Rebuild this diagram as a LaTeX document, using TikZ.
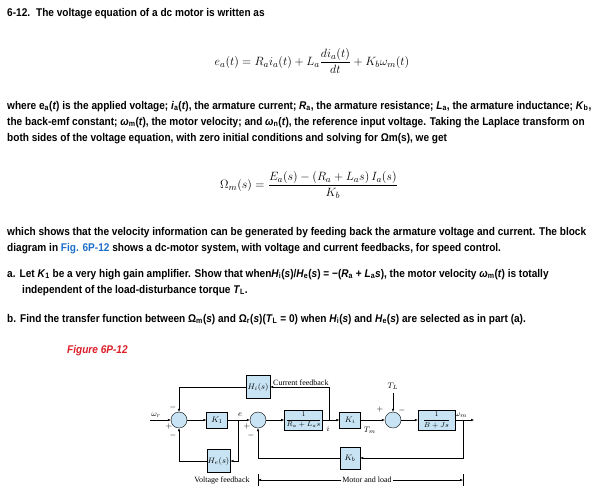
\documentclass[tikz,border=0pt]{standalone}
\usepackage{fontspec}
\usepackage{amsmath}
\setmainfont[FakeStretch=0.9]{Liberation Sans}
\newfontfamily\dgfont{Liberation Serif}
\usetikzlibrary{arrows.meta}
\definecolor{bfill}{RGB}{200,228,244}
\definecolor{figred}{RGB}{220,30,40}
\definecolor{linkblue}{RGB}{30,110,200}
\begin{document}
\begin{tikzpicture}[x=1pt,y=-1pt,
  txt/.style={anchor=base west,inner sep=0,font=\fontsize{11.2}{13}\selectfont},
  blk/.style={draw,fill=bfill,minimum width=21pt,minimum height=16pt,inner sep=1pt,font=\dgfont\fontsize{8.5}{9}\selectfont},
  sumj/.style={draw,circle,fill=bfill,minimum size=16pt,inner sep=0},
  sig/.style={inner sep=0,font=\dgfont\fontsize{8}{9}\selectfont},
  sg/.style={inner sep=0,font=\fontsize{8}{9}\selectfont},
  ar/.style={-{Latex[length=3pt,width=2.5pt]}}]
\useasboundingbox (0,0) rectangle (613,491);
\node[txt] (t0) at (7,16) {\textbf{6-12.}\hspace{6pt}\textbf{The voltage equation of a dc motor is written as}};
\node[inner sep=0,font=\fontsize{12.5}{14}\selectfont] (e1) at (312,61) {$e_a(t)=R_ai_a(t)+L_a\dfrac{di_a(t)}{dt}+K_b\omega_m(t)$};
\node[txt] (l1) at (7,109) {\textbf{where e\textsubscript{a}(\textit{t}) is the applied voltage; \textit{i}\textsubscript{a}(\textit{t}), the armature current; \textit{R}\textsubscript{a}, the armature resistance; \textit{L}\textsubscript{a}, the armature inductance; \textit{K}\textsubscript{b},}};
\node[txt] (l2) at (7,125) {\textbf{the back-emf constant; \textit{ω}\textsubscript{m}(\textit{t}), the motor velocity; and \textit{ω}\textsubscript{n}(\textit{t}), the reference input voltage. Taking the Laplace transform on}};
\node[txt] (l3) at (7,141) {\textbf{both sides of the voltage equation, with zero initial conditions and solving for Ωm(s), we get}};
\node[inner sep=0,font=\fontsize{12.5}{14}\selectfont] (e2) at (309,185) {$\Omega_m(s)=\dfrac{E_a(s)-(R_a+L_as)\,I_a(s)}{K_b}$};
\node[txt] (l4) at (7,235) {\textbf{which shows that the velocity information can be generated by feeding back the armature voltage and current. The block}};
\node[txt] (l5) at (7,251) {\textbf{diagram in \textcolor{linkblue}{Fig. 6P-12} shows a dc-motor system, with voltage and current feedbacks, for speed control.}};
\node[txt] (l6) at (7,277) {\textbf{a.\hspace{4pt}Let \textit{K}\textsubscript{1} be a very high gain amplifier. Show that when\textit{H}\textsubscript{i}(\textit{s})/\textit{H}\textsubscript{e}(\textit{s}) = −(\textit{R}\textsubscript{a} + \textit{L}\textsubscript{a}\textit{s}), the motor velocity \textit{ω}\textsubscript{m}(\textit{t}) is totally}};
\node[txt] (l7) at (22,293) {\textbf{independent of the load-disturbance torque \textit{T}\textsubscript{L}.}};
\node[txt] (l8) at (7,322) {\textbf{b.\hspace{4pt}Find the transfer function between Ω\textsubscript{m}(\textit{s}) and Ω\textsubscript{r}(\textit{s})(\textit{T}\textsubscript{L} = 0) when \textit{H}\textsubscript{i}(\textit{s}) and \textit{H}\textsubscript{e}(\textit{s}) are selected as in part (a).}};
\node[txt,text=figred] (fig) at (67,353) {\textbf{\textit{Figure 6P-12}}};
% diagram
\coordinate (in) at (150,420);
\node[sumj] (s1) at (179,420) {};
\node[blk] (k1) at (217,420) {$K_1$};
\coordinate (eb) at (238,420);
\node[sumj] (s2) at (258,420) {};
\node[blk,minimum width=33pt,minimum height=20pt,font=\dgfont\fontsize{7.5}{8}\selectfont] (ra) at (303.5,420) {$\dfrac{1}{R_a+L_as}$};
\coordinate (ib) at (329,420);
\node[blk] (ki) at (350,420) {$K_i$};
\node[sumj] (s3) at (393,420) {};
\coordinate (tl) at (393,393);
\node[blk,minimum width=37pt,minimum height=20pt,font=\dgfont\fontsize{7.5}{8}\selectfont] (bj) at (436.5,420) {$\dfrac{1}{B+Js}$};
\coordinate (wb) at (463,420);
\coordinate (out) at (474,420);
\node[blk,minimum width=24pt,minimum height=23pt] (hi) at (258,387) {$H_i(s)$};
\node[blk,minimum width=23pt,minimum height=23pt] (he) at (218.5,461) {$H_e(s)$};
\node[blk,minimum width=20pt,minimum height=22pt] (kb) at (350,458) {$K_b$};
\draw[ar] (in) -- (s1);
\draw[ar] (s1) -- (k1);
\draw[ar] (k1) -- (s2);
\draw[ar] (s2) -- (ra);
\draw[ar] (ra) -- (ki);
\draw[ar] (ki) -- (s3);
\draw[ar] (s3) -- (bj);
\draw[ar] (bj) -- (out);
\draw[ar] (tl) -- (s3);
\draw[ar] (ib) |- (hi.east);
\draw[ar] (hi.west) -| (s1.north);
\draw[ar] (eb) |- (he.east);
\draw[ar] (he.west) -| (s1.south);
\draw[ar] (wb) |- (kb.east);
\draw[ar] (kb.west) -| (s2.south);
\node[sig] (lw) at (156,415) {$\omega_r$};
\node[sig] (le) at (240,415) {$e$};
\node[sig] (li) at (328,429) {$i$};
\node[sig] (ltm) at (370,430) {$T_m$};
\node[sig] (ltl) at (393,386) {$T_L$};
\node[sig] (lwm) at (461,415) {$\omega_m$};
\node[sig,anchor=west] (lcf) at (273,383) {Current feedback};
\node[sig] (lvf) at (222,481) {Voltage feedback};
\node[sg] (p1a) at (173,407) {$-$};
\node[sg] (p1b) at (169,426) {$+$};
\node[sg] (p1c) at (173,435) {$-$};
\node[sg] (p2a) at (247,426) {$+$};
\node[sg] (p2b) at (251,435) {$-$};
\node[sg] (p3a) at (380,409) {$+$};
\node[sg] (p3b) at (402,410) {$-$};
\coordinate (ml) at (258,480);
\coordinate (mr) at (463,480);
\draw (258,474) -- (258,486) (463,474) -- (463,486);
\node[sig,fill=white,inner xsep=1pt] (lml) at (367,480) {Motor and load};
\draw[ar] (lml.west) -- (ml);
\draw[ar] (lml.east) -- (mr);
\end{tikzpicture}
\end{document}
